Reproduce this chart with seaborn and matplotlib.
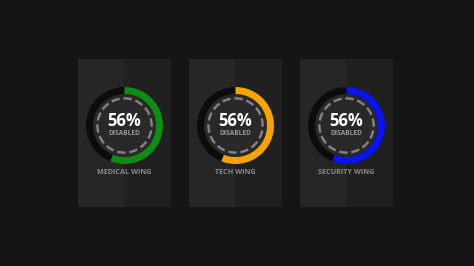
import matplotlib
matplotlib.use("Agg")
import matplotlib.pyplot as plt
import seaborn as sns
from matplotlib.patches import Rectangle, Circle

# ---- data ----
categories = ["MEDICAL WING", "TECH WING", "SECURITY WING"]
disabled_pct = [56, 56, 56]
ring_colors = ["#0f8c12", "#f5a400", "#0a14f0"]
sub_label = "DISABLED"

sns.set_theme(style="dark")
plt.rcParams["font.family"] = ["Open Sans", "DejaVu Sans"]

W, H = 474, 266
fig = plt.figure(figsize=(W / 100, H / 100), dpi=100, facecolor="#151515")
ax = fig.add_axes([0, 0, 1, 1])
ax.set_facecolor("#151515")


def Y(py):
    return H - py


card_x0 = [78, 189, 300]
card_w, card_top, card_h = 93, 59, 148
ring_cy = 125.5
R_out, arc_w = 38.5, 7.0

for i, (cat, val, col) in enumerate(zip(categories, disabled_pct, ring_colors)):
    x0 = card_x0[i]
    cx = x0 + card_w / 2
    # card halves
    ax.add_patch(Rectangle((x0, Y(card_top + card_h)), card_w / 2, card_h,
                           facecolor="#262626", edgecolor="none", zorder=1))
    ax.add_patch(Rectangle((x0 + card_w / 2, Y(card_top + card_h)), card_w / 2, card_h,
                           facecolor="#202020", edgecolor="none", zorder=1))
    # black track disc and inner disc
    ax.add_patch(Circle((cx, Y(ring_cy)), R_out, facecolor="#0c0c0c",
                        edgecolor="none", zorder=2))
    ax.add_patch(Circle((cx, Y(ring_cy)), R_out - arc_w, facecolor="#292929",
                        edgecolor="none", zorder=3))
    # dashed inner ring
    dashes = [1.0, 0.45] * 14
    dcols = ["#838383", "none"] * 14
    w, _ = ax.pie(dashes, colors=dcols, center=(cx, Y(ring_cy)), radius=28.3,
                  startangle=118, counterclock=False,
                  wedgeprops=dict(width=2.4, linewidth=0))
    for p in w:
        p.set_zorder(4)
    # progress arc
    w, _ = ax.pie([val, 100 - val], colors=[col, "none"], center=(cx, Y(ring_cy)),
                  radius=R_out, startangle=90, counterclock=False,
                  wedgeprops=dict(width=arc_w, linewidth=0))
    for p in w:
        p.set_zorder(5)
    # texts
    ax.text(cx, Y(121.5), f"{val}%", ha="center", va="center", color="white",
            fontsize=12, fontweight="bold", zorder=6)
    ax.text(cx, Y(133.5), sub_label, ha="center", va="center", color="#9a9a9a",
            fontsize=4.7, fontweight="bold", zorder=6)
    ax.text(cx, Y(173), cat, ha="center", va="center", color="#8a8a8a",
            fontsize=5.2, fontweight="bold", zorder=6)

ax.set_xlim(0, W)
ax.set_ylim(0, H)
ax.set_aspect("equal")
ax.axis("off")
fig.savefig("out.png", dpi=100, facecolor="#151515")
